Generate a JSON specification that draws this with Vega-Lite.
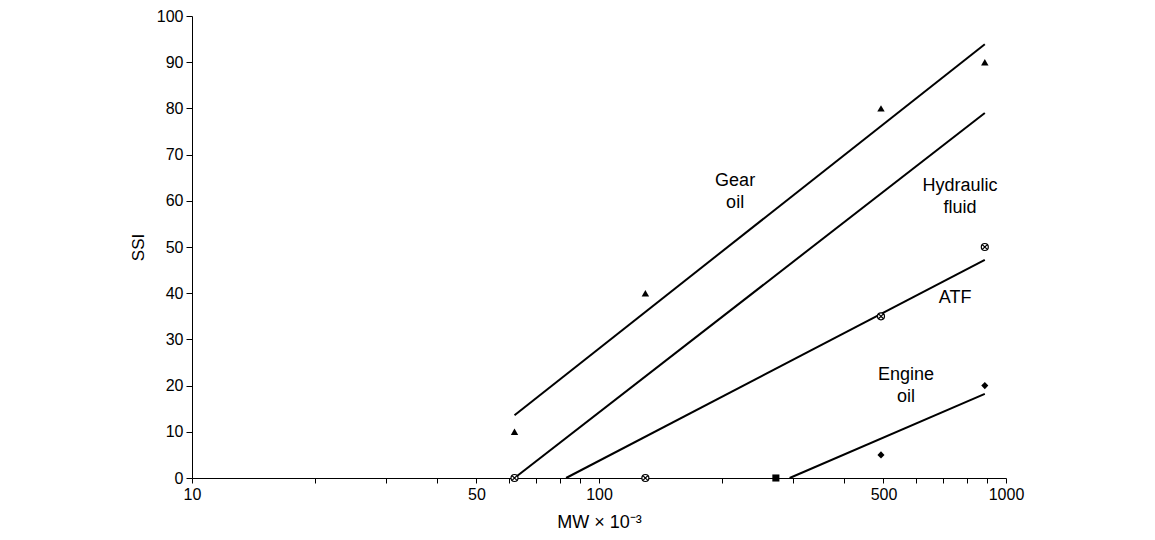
{
  "$schema": "https://vega.github.io/schema/vega-lite/v6.json",
  "autosize": "none",
  "width": 814,
  "height": 462,
  "padding": {"left": 192, "top": 16, "right": 149, "bottom": 62},
  "background": "white",
  "config": {
    "view": {"stroke": null},
    "font": "Liberation Sans",
    "axis": {"grid": false, "domainColor": "black", "tickColor": "black", "labelColor": "black", "titleColor": "black", "labelFont": "Liberation Sans", "titleFont": "Liberation Sans", "labelFontSize": 16, "titleFontSize": 18, "titleFontWeight": "normal", "domainWidth": 1, "tickWidth": 1}
  },
  "datasets": {
    "fits": [
      {"series": "Gear oil", "mw": 62, "ssi": 13.6},
      {"series": "Gear oil", "mw": 887, "ssi": 93.9},
      {"series": "Hydraulic fluid", "mw": 62, "ssi": 0},
      {"series": "Hydraulic fluid", "mw": 887, "ssi": 79.0},
      {"series": "ATF", "mw": 83, "ssi": 0},
      {"series": "ATF", "mw": 887, "ssi": 47.2},
      {"series": "Engine oil", "mw": 294, "ssi": 0},
      {"series": "Engine oil", "mw": 887, "ssi": 18.2}
    ],
    "points": [
      {"marker": "triangle", "mw": 62, "ssi": 10},
      {"marker": "triangle", "mw": 130, "ssi": 40},
      {"marker": "triangle", "mw": 493, "ssi": 80},
      {"marker": "triangle", "mw": 887, "ssi": 90},
      {"marker": "circlex", "mw": 62, "ssi": 0},
      {"marker": "circlex", "mw": 130, "ssi": 0},
      {"marker": "circlex", "mw": 493, "ssi": 35},
      {"marker": "circlex", "mw": 887, "ssi": 50},
      {"marker": "square", "mw": 272, "ssi": 0},
      {"marker": "diamond", "mw": 493, "ssi": 5},
      {"marker": "diamond", "mw": 887, "ssi": 20}
    ],
    "labels": [
      {"text": ["Gear", "oil"], "mw": 216, "ssi": 64.3},
      {"text": ["Hydraulic", "fluid"], "mw": 771, "ssi": 63.2},
      {"text": ["ATF"], "mw": 750, "ssi": 39.0},
      {"text": ["Engine", "oil"], "mw": 568, "ssi": 22.3}
    ]
  },
  "encoding": {
    "x": {
      "field": "mw", "type": "quantitative",
      "scale": {"type": "log", "domain": [10, 1000], "nice": false},
      "axis": {
        "title": "MW × 10⁻³",
        "titleX": 407, "titleY": 44, "titleBaseline": "middle",
        "values": [10, 20, 30, 40, 50, 60, 70, 80, 90, 100, 200, 300, 400, 500, 600, 700, 800, 900, 1000],
        "labelExpr": "indexof([10, 50, 100, 500, 1000], datum.value) >= 0 ? datum.label : ''",
        "format": "d",
        "labelFlush": false, "labelOverlap": false, "labelPadding": 3, "tickSize": 5
      }
    },
    "y": {
      "field": "ssi", "type": "quantitative",
      "scale": {"domain": [0, 100], "nice": false},
      "axis": {
        "title": "SSI",
        "titleX": -54, "titleY": 231, "titleBaseline": "middle", "titleAlign": "center", "titleFontSize": 17,
        "values": [0, 10, 20, 30, 40, 50, 60, 70, 80, 90, 100],
        "labelPadding": 3, "tickSize": 6
      }
    }
  },
  "layer": [
    {
      "data": {"name": "fits"},
      "mark": {"type": "line", "color": "black", "strokeWidth": 2},
      "encoding": {"detail": {"field": "series", "type": "nominal"}}
    },
    {
      "data": {"name": "points"},
      "transform": [{"filter": "datum.marker === 'triangle'"}],
      "mark": {"type": "point", "shape": "triangle-up", "filled": true, "color": "black", "size": 55, "opacity": 1}
    },
    {
      "data": {"name": "points"},
      "transform": [{"filter": "datum.marker === 'circlex'"}],
      "mark": {"type": "point", "shape": "M-1,0A1,1 0 1,1 1,0A1,1 0 1,1 -1,0Z M-0.7,-0.7L0.7,0.7M-0.7,0.7L0.7,-0.7", "filled": false, "fill": "white", "fillOpacity": 1, "stroke": "black", "strokeWidth": 1.2, "size": 49, "opacity": 1}
    },
    {
      "data": {"name": "points"},
      "transform": [{"filter": "datum.marker === 'square'"}],
      "mark": {"type": "point", "shape": "square", "filled": true, "color": "black", "size": 50, "opacity": 1}
    },
    {
      "data": {"name": "points"},
      "transform": [{"filter": "datum.marker === 'diamond'"}],
      "mark": {"type": "point", "shape": "diamond", "filled": true, "color": "black", "size": 50, "opacity": 1}
    },
    {
      "data": {"name": "labels"},
      "mark": {"type": "text", "font": "Liberation Sans", "fontSize": 18, "color": "black", "align": "center", "baseline": "middle", "lineHeight": 22},
      "encoding": {"text": {"field": "text"}}
    }
  ]
}
